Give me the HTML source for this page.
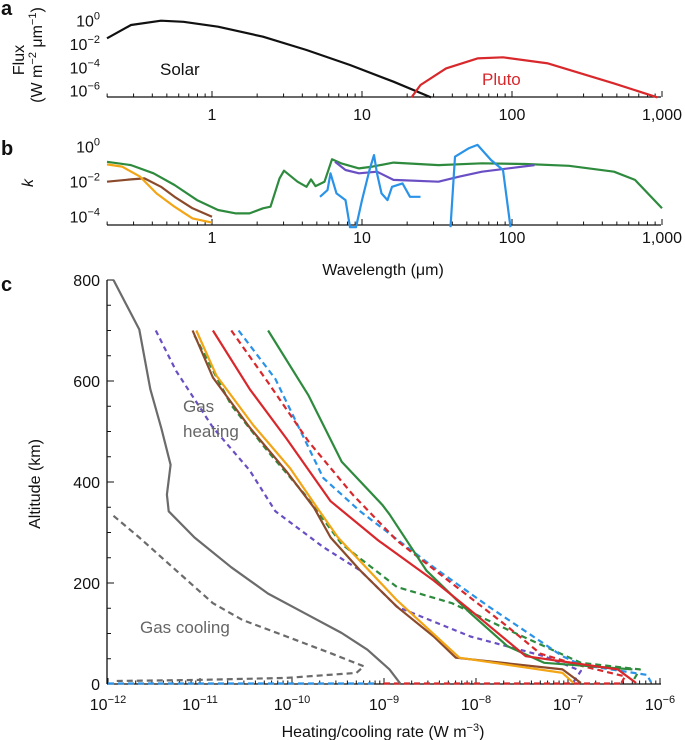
<!DOCTYPE html>
<html><head><meta charset="utf-8"><style>
html,body{margin:0;padding:0;background:#fff;}
svg{display:block;font-family:"Liberation Sans",sans-serif;}
</style></head><body>
<svg id="fig" width="685" height="740" viewBox="0 0 685 740"></svg>
<script>
// ---------- Panel a data (log10 wavelength, log10 flux) ----------
const solarLogW=[-0.70,-0.54,-0.34,-0.19,0.04,0.34,0.63,0.92,1.21,1.46];
const solarLogF=[-1.51,-0.37,0,-0.09,-0.51,-1.37,-2.51,-3.8,-5.23,-6.57];
const plutoLogW=[1.33,1.39,1.56,1.77,1.94,2.24,2.68,2.97];
const plutoLogF=[-6.57,-5.51,-4.09,-3.23,-3.14,-3.66,-5.37,-6.57];
// ---------- Panel b data (log10 wavelength, log10 k) ----------
const greenKW=[-0.70,-0.54,-0.39,-0.25,-0.10,0.04,0.16,0.25,0.34,0.39,0.45,0.48,0.57,0.63,0.66,0.69,0.75,0.80,0.86,0.98,1.07,1.21,1.51,1.80,2.09,2.38,2.68,2.82,3.0];
const greenK=[-0.86,-1.05,-1.52,-2.19,-3.05,-3.62,-3.81,-3.81,-3.52,-3.43,-1.81,-1.37,-2.0,-2.29,-1.87,-2.25,-2.0,-0.72,-0.95,-1.24,-1.14,-0.91,-1.05,-0.95,-0.99,-1.09,-1.43,-1.90,-3.52];
const orangeKW=[-0.70,-0.6,-0.48,-0.37,-0.25,-0.13,0];
const orangeK=[-1.01,-1.14,-1.71,-2.67,-3.43,-4.1,-4.34];
const brownKW=[-0.70,-0.54,-0.45,-0.34,-0.25,-0.13,0];
const brownK=[-2.0,-1.87,-1.81,-2.29,-2.86,-3.52,-4.0];
const purpleKW=[0.82,0.89,0.98,1.10,1.21,1.51,1.65,1.80,2.15];
const purpleK=[-0.86,-1.33,-1.52,-1.43,-1.90,-2.0,-1.71,-1.43,-1.05];
const blue1KW=[0.72,0.77,0.79,0.83,0.89,0.92,0.96,1.0,1.05,1.08,1.10,1.13,1.17,1.20,1.27,1.32,1.39];
const blue1K=[-2.86,-2.48,-1.52,-2.67,-3.05,-4.6,-4.6,-3.05,-1.33,-0.48,-1.52,-2.67,-3.05,-2.29,-2.1,-2.86,-2.86];
const blue2KW=[1.59,1.62,1.71,1.77,1.86,1.94,1.99];
const blue2K=[-4.6,-0.57,-0.1,0.1,-0.76,-1.33,-4.6];
// ---------- Panel c data (log10 rate, altitude km) ----------
const heatX=[-11.94,-11.66,-11.54,-11.42,-11.32,-11.36,-11.34,-11.06,-10.66,-10.26,-9.86,-9.46,-9.18,-8.94,-8.82];
const heatA=[800,702,584,506,434,375,342,290,231,179,140,101,68,29,0];
const coolX=[-11.94,-11.66,-11.26,-10.86,-10.54,-10.06,-9.58,-9.22,-9.3,-10.06,-11.06,-11.94];
const coolA=[333,290,225,160,127,94,61,35,22,12,8,6];
const brownX=[-11.08,-10.86,-10.46,-10.06,-9.76,-9.58,-9.26,-8.86,-8.46,-8.22,-7.06,-6.86];
const brownA=[700,607,508,421,349,290,225,153,94,52,29,2];
const orangeX=[-11.04,-10.82,-10.42,-10.02,-9.7,-9.5,-8.86,-8.18,-7.06,-6.94];
const orangeA=[700,610,512,427,342,290,166,52,22,2];
const redX=[-10.86,-10.46,-10.06,-9.58,-9.06,-8.46,-8.06,-7.46,-6.46,-6.26];
const redA=[700,584,486,362,284,205,146,55,29,2];
const redDX=[-10.66,-10.26,-9.82,-9.34,-8.86,-8.26,-7.66,-7.3,-6.9,-6.38,-6.42];
const redDA=[700,597,480,375,284,199,114,60,38,15,2];
const blueDX=[-10.58,-10.18,-9.66,-9.26,-8.46,-7.86,-7.06,-6.86,-6.14,-6.1];
const blueDA=[700,604,408,342,231,153,55,38,18,4];
const greenX=[-10.26,-9.82,-9.46,-9.02,-8.94,-8.54,-8.06,-7.66,-7.26,-6.6,-6.3];
const greenA=[700,571,440,355,336,225,140,75,42,33,29];
const greenDX=[-11.06,-10.66,-10.26,-9.86,-9.46,-8.86,-8.26,-7.66,-7.26,-6.86,-6.22,-6.3];
const greenDA=[690,552,460,375,277,192,160,108,75,42,29,4];
const purpleDX=[-11.48,-11.26,-10.86,-10.46,-10.18,-9.66,-9.26,-8.86,-8.06,-7.26,-6.86,-6.94];
const purpleDA=[700,620,508,423,342,271,225,153,94,55,26,4];
const cTicksX=[-12,-11,-10,-9,-8,-7,-6];
const cTicksY=[0,200,400,600,800];
const wTicks=[0,1,2,3];
const wLabels=["1","10","100","1,000"];

const NS="http://www.w3.org/2000/svg";
const svg=document.getElementById('fig');
function el(tag,attrs,parent){const e=document.createElementNS(NS,tag);for(const k in attrs)e.setAttribute(k,attrs[k]);(parent||svg).appendChild(e);return e;}
const wx=l=>212+l*150;
const ay=v=>20.7-v*11.67;
const by=v=>146.7-v*17.5;
const cx=v=>108+(v+12)*92;
const cy=a=>684-a*0.505;
function poly(xs,ys,fx,fy,color,name,dash){
  const p=xs.map((x,i)=>fx(x).toFixed(1)+','+fy(ys[i]).toFixed(1)).join(' ');
  const e=el('polyline',{points:p,fill:'none',stroke:color,'stroke-width':2.2,'stroke-linejoin':'round'});
  if(dash)e.setAttribute('stroke-dasharray',dash);
  
  
}
function txt(x,y,s,attrs,name){const t=el('text',Object.assign({x:x,y:y,'font-size':16,fill:'#111'},attrs||{}));t.textContent=s;return t;}
function supLabel(x,y,base,exp,name,anchor){
  const t=el('text',{x:x,y:y,'font-size':16,fill:'#111','text-anchor':anchor||'middle'});
  
  
  const a=el('tspan',{},t);a.textContent=base;
  const b=el('tspan',{dy:-7,'font-size':11},t);b.textContent=exp;
  return t;
}
function logTicksX(axisY,fx,lo,hi,name){
  const g=el('g',{stroke:'#111','stroke-width':1});
  
  
  for(let d=Math.floor(lo);d<hi;d++){for(let m=1;m<10;m++){const l=d+Math.log10(m);if(l<lo-1e-6||l>hi+1e-6)continue;const x=fx(l);el('line',{x1:x,x2:x,y1:axisY,y2:axisY-(m===1?6:3.5)},g);}}
  const x=fx(hi);el('line',{x1:x,x2:x,y1:axisY,y2:axisY-6},g);
}
txt(1,15,'a',{'font-weight':'bold','font-size':20},'panel-a-label');
txt(1,155,'b',{'font-weight':'bold','font-size':20},'panel-b-label');
txt(1,291,'c',{'font-weight':'bold','font-size':20},'panel-c-label');

// ---- panel a ----
el('line',{x1:107,x2:661,y1:97,y2:97,stroke:'#111','stroke-width':1.3});
logTicksX(97,wx,-0.7,3,'panel-a-x-ticks');
wTicks.forEach((w,i)=>txt(wx(w),120,wLabels[i],{'text-anchor':'middle'},'panel-a-x-tick-label'));
[0,-2,-4,-6].forEach(v=>supLabel(100,ay(v)+6,'10',v===0?'0':'−'+(-v),'panel-a-y-tick-label','end'));
(function(){txt(0,0,'Flux',{transform:'translate(24,60) rotate(-90)','text-anchor':'middle'},'panel-a-y-title');
const t2=el('text',{transform:'translate(42,55) rotate(-90)','text-anchor':'middle','font-size':16,fill:'#111'});


const s1=el('tspan',{},t2);s1.textContent='(W m';const s2=el('tspan',{dy:-6,'font-size':11},t2);s2.textContent='−2';
const s3=el('tspan',{dy:6},t2);s3.textContent=' μm';const s4=el('tspan',{dy:-6,'font-size':11},t2);s4.textContent='−1';
const s5=el('tspan',{dy:6},t2);s5.textContent=')';})();
poly(solarLogW,solarLogF,wx,ay,'#111','solar-flux-line');
poly(plutoLogW,plutoLogF,wx,ay,'#d8282c','pluto-flux-line');
txt(160,75,'Solar',{'font-size':17},'solar-label');
txt(482,85,'Pluto',{fill:'#d8282c','font-size':17},'pluto-label');

// ---- panel b ----
el('line',{x1:107,x2:661,y1:225,y2:225,stroke:'#111','stroke-width':1.3});
logTicksX(225,wx,-0.7,3,'panel-b-x-ticks');
wTicks.forEach((w,i)=>txt(wx(w),243,wLabels[i],{'text-anchor':'middle'},'panel-b-x-tick-label'));
[0,-2,-4].forEach(v=>supLabel(100,by(v)+6,'10',v===0?'0':'−'+(-v),'panel-b-y-tick-label','end'));
txt(28,188,'k',{'font-style':'italic','transform':'rotate(-90 28 183)','text-anchor':'middle'},'panel-b-y-title');
txt(383,275,'Wavelength (μm)',{'text-anchor':'middle'},'panel-b-x-title');
poly(greenKW,greenK,wx,by,'#2e8b3e','k-green-line');
poly(brownKW,brownK,wx,by,'#8b4a2b','k-brown-line');
poly(orangeKW,orangeK,wx,by,'#f2a515','k-orange-line');
poly(purpleKW,purpleK,wx,by,'#6a4fc4','k-purple-line');
poly(blue1KW,blue1K,wx,by,'#2a93e8','k-blue-line-1');
poly(blue2KW,blue2K,wx,by,'#2a93e8','k-blue-line-2');

// ---- panel c ----
el('line',{x1:107,x2:661,y1:684,y2:684,stroke:'#111','stroke-width':1.3});
el('line',{x1:107,x2:107,y1:280,y2:684,stroke:'#111','stroke-width':1.3});
logTicksX(684,cx,-12,-6,'panel-c-x-ticks');
(function(){const g=el('g',{stroke:'#111','stroke-width':1});

for(let a=0;a<=800;a+=50){el('line',{x1:107,x2:107+(a%200===0?7:4),y1:cy(a),y2:cy(a)},g);}})();
cTicksX.forEach(v=>supLabel(cx(v),710,'10','−'+(-v),'panel-c-x-tick-label'));
cTicksY.forEach(a=>txt(100,cy(a)+6,String(a),{'text-anchor':'end'},'panel-c-y-tick-label'));
txt(0,0,'Altitude (km)',{transform:'translate(40,484) rotate(-90)','text-anchor':'middle'},'panel-c-y-title');
(function(){const t=el('text',{x:383,y:737,'text-anchor':'middle','font-size':16,fill:'#111'});


const a=el('tspan',{},t);a.textContent='Heating/cooling rate (W m';const b=el('tspan',{dy:-6,'font-size':11},t);b.textContent='−3';const c=el('tspan',{dy:6},t);c.textContent=')';})();
poly([-12,-9.1],[1,1],cx,cy,'#2a93e8','baseline-blue-dashed','6 4');
poly([-9.0,-6.4],[1,1],cx,cy,'#d8282c','baseline-red-dashed','6 4');
poly(heatX,heatA,cx,cy,'#6b6b6b','gas-heating-line');
poly(coolX,coolA,cx,cy,'#6b6b6b','gas-cooling-line','6 4');
poly(purpleDX,purpleDA,cx,cy,'#6a4fc4','purple-dashed-line','5 4');
poly(greenDX,greenDA,cx,cy,'#2e8b3e','green-dashed-line','6 4');
poly(blueDX,blueDA,cx,cy,'#2a93e8','blue-dashed-line','6 4');
poly(redDX,redDA,cx,cy,'#d8282c','red-dashed-line','6 4');
poly(greenX,greenA,cx,cy,'#2e8b3e','green-solid-line');
poly(brownX,brownA,cx,cy,'#8b4a2b','brown-solid-line');
poly(orangeX,orangeA,cx,cy,'#f2a515','orange-solid-line');
poly(redX,redA,cx,cy,'#d8282c','red-solid-line');
txt(183,412,'Gas',{fill:'#666','font-size':17},'gas-heating-label-1');
txt(183,437,'heating',{fill:'#666','font-size':17},'gas-heating-label-2');
txt(140,633,'Gas cooling',{fill:'#666','font-size':17},'gas-cooling-label');
</script>
</body></html>
